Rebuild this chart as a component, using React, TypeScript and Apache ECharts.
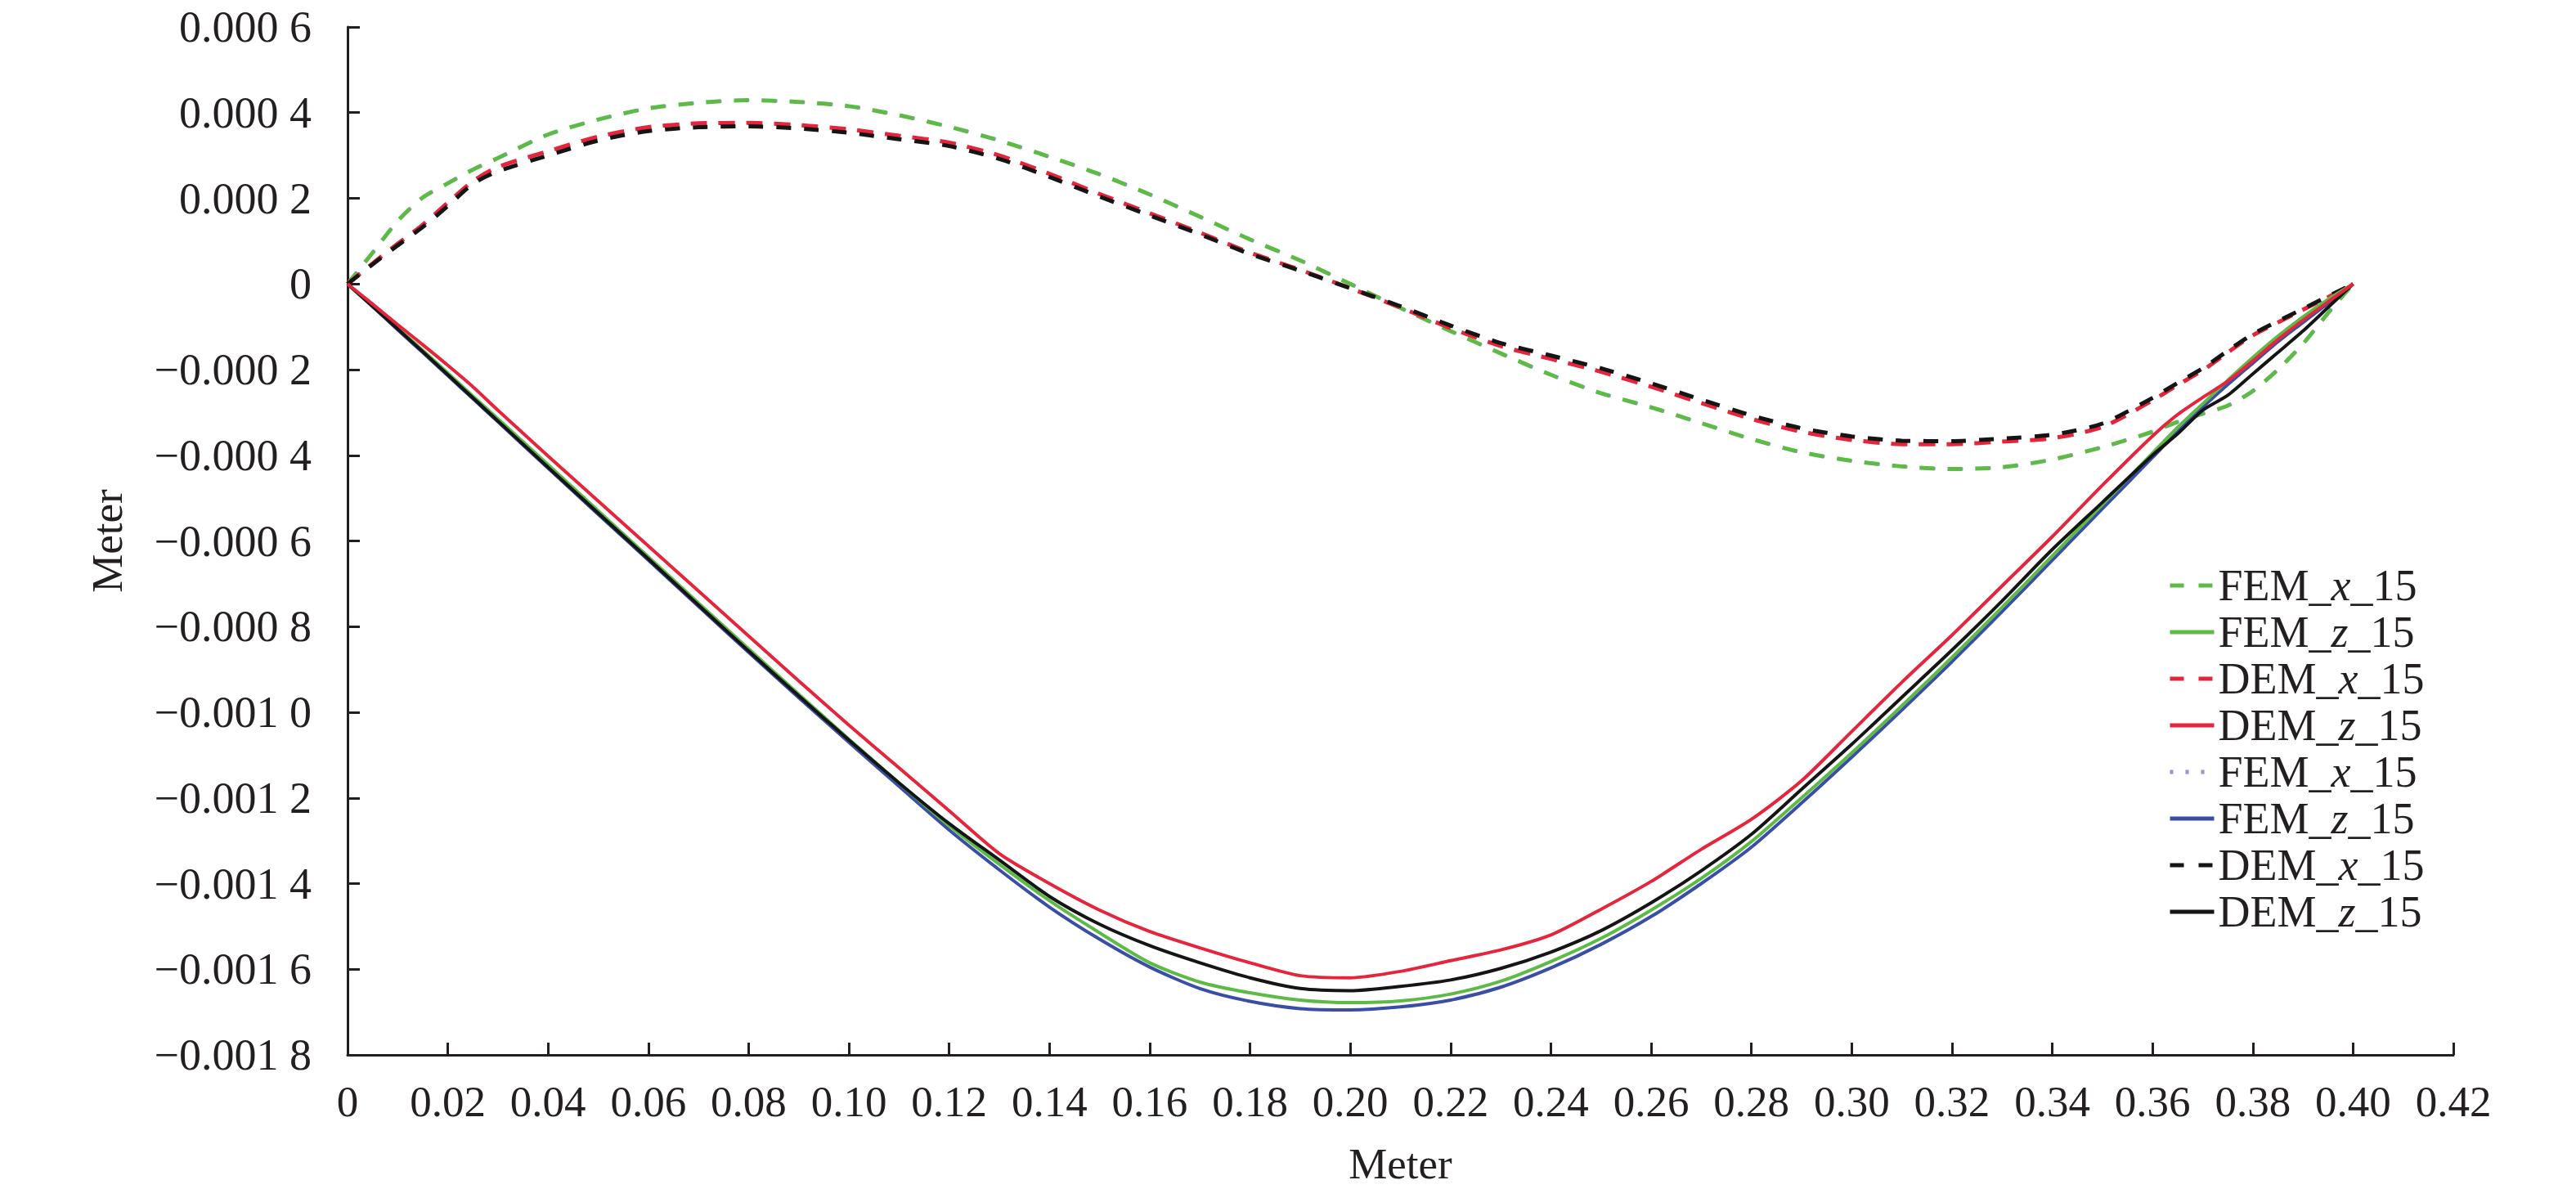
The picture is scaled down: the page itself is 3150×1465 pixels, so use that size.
import React, { useEffect, useRef } from "react";
import * as echarts from "echarts";

const FONT = "'Liberation Serif', 'Times New Roman', serif";
const INK = "#231f20";

// x positions (Meter)
const xs = [
  0, 0.005, 0.01, 0.015, 0.02, 0.025, 0.03,
  0.04, 0.05, 0.06, 0.07, 0.08, 0.09, 0.10, 0.11, 0.12, 0.13, 0.14, 0.15, 0.16, 0.17, 0.18, 0.19,
  0.20, 0.21, 0.22, 0.23, 0.24, 0.25, 0.26, 0.27, 0.28, 0.29, 0.30, 0.31, 0.32, 0.33, 0.34, 0.35, 0.36,
  0.365, 0.37, 0.375, 0.38, 0.385, 0.39, 0.395, 0.40,
];

// FEM_x_15 (green dashed)
const femX = [
  0, 0.73e-4, 1.47e-4, 2.02e-4, 2.35e-4, 2.67e-4, 2.94e-4,
  3.49e-4, 3.84e-4, 4.10e-4, 4.23e-4, 4.29e-4, 4.25e-4, 4.15e-4, 3.94e-4, 3.67e-4, 3.35e-4, 2.97e-4, 2.56e-4, 2.09e-4, 1.57e-4, 1.04e-4, 0.55e-4,
  0.0, -0.56e-4, -1.10e-4, -1.62e-4, -2.12e-4, -2.55e-4, -2.88e-4, -3.25e-4, -3.62e-4, -3.93e-4, -4.13e-4, -4.26e-4, -4.32e-4, -4.28e-4, -4.10e-4, -3.81e-4, -3.45e-4,
  -3.22e-4, -3.03e-4, -2.84e-4, -2.50e-4, -2.00e-4, -1.40e-4, -0.68e-4, 0,
];

// FEM_z_15 (green solid)
const femZ = [
  0, -0.51e-4, -1.03e-4, -1.55e-4, -2.08e-4, -2.62e-4, -3.15e-4,
  -4.22e-4, -5.30e-4, -6.37e-4, -7.45e-4, -8.52e-4, -9.58e-4, -10.63e-4, -11.65e-4, -12.65e-4, -13.55e-4, -14.40e-4, -15.15e-4, -15.85e-4, -16.30e-4, -16.55e-4, -16.72e-4,
  -16.78e-4, -16.74e-4, -16.58e-4, -16.28e-4, -15.82e-4, -15.28e-4, -14.62e-4, -13.88e-4, -13.02e-4, -12.00e-4, -10.95e-4, -9.85e-4, -8.72e-4, -7.55e-4, -6.35e-4, -5.15e-4, -3.95e-4,
  -3.35e-4, -2.80e-4, -2.25e-4, -1.72e-4, -1.22e-4, -0.77e-4, -0.36e-4, 0,
];

// DEM_x_15 (red dashed)
const demX = [
  0, 0.48e-4, 0.94e-4, 1.38e-4, 1.90e-4, 2.40e-4, 2.73e-4,
  3.10e-4, 3.44e-4, 3.66e-4, 3.75e-4, 3.76e-4, 3.71e-4, 3.61e-4, 3.46e-4, 3.30e-4, 3.00e-4, 2.57e-4, 2.10e-4, 1.65e-4, 1.20e-4, 0.73e-4, 0.33e-4,
  -0.10e-4, -0.55e-4, -1.03e-4, -1.45e-4, -1.75e-4, -2.05e-4, -2.40e-4, -2.78e-4, -3.15e-4, -3.45e-4, -3.64e-4, -3.74e-4, -3.74e-4, -3.68e-4, -3.60e-4, -3.34e-4, -2.72e-4,
  -2.36e-4, -2.02e-4, -1.60e-4, -1.20e-4, -0.90e-4, -0.60e-4, -0.31e-4, 0,
];

// DEM_z_15 (red solid)
const demZ = [
  0, -0.47e-4, -0.95e-4, -1.42e-4, -1.90e-4, -2.40e-4, -2.95e-4,
  -4.02e-4, -5.07e-4, -6.12e-4, -7.17e-4, -8.22e-4, -9.27e-4, -10.30e-4, -11.30e-4, -12.30e-4, -13.30e-4, -14.00e-4, -14.62e-4, -15.12e-4, -15.50e-4, -15.85e-4, -16.15e-4,
  -16.20e-4, -16.05e-4, -15.80e-4, -15.55e-4, -15.20e-4, -14.60e-4, -13.95e-4, -13.20e-4, -12.50e-4, -11.60e-4, -10.45e-4, -9.30e-4, -8.20e-4, -7.05e-4, -5.90e-4, -4.70e-4, -3.55e-4,
  -3.05e-4, -2.65e-4, -2.27e-4, -1.80e-4, -1.30e-4, -0.85e-4, -0.42e-4, 0,
];

// FEM_x_15 (blue dotted, lies under the green dashed curve)
const femX2 = [
  0, 0.73e-4, 1.47e-4, 2.02e-4, 2.35e-4, 2.67e-4, 2.94e-4,
  3.49e-4, 3.84e-4, 4.10e-4, 4.23e-4, 4.29e-4, 4.25e-4, 4.15e-4, 3.94e-4, 3.67e-4, 3.35e-4, 2.97e-4, 2.56e-4, 2.09e-4, 1.57e-4, 1.04e-4, 0.55e-4,
  0.0, -0.56e-4, -1.10e-4, -1.62e-4, -2.12e-4, -2.55e-4, -2.88e-4, -3.25e-4, -3.62e-4, -3.93e-4, -4.13e-4, -4.26e-4, -4.32e-4, -4.28e-4, -4.10e-4, -3.81e-4, -3.45e-4,
  -3.22e-4, -3.03e-4, -2.84e-4, -2.50e-4, -2.00e-4, -1.40e-4, -0.68e-4, 0,
];

// FEM_z_15 (blue solid)
const femZ2 = [
  0, -0.53e-4, -1.07e-4, -1.60e-4, -2.14e-4, -2.68e-4, -3.22e-4,
  -4.30e-4, -5.38e-4, -6.45e-4, -7.53e-4, -8.60e-4, -9.66e-4, -10.70e-4, -11.73e-4, -12.75e-4, -13.68e-4, -14.55e-4, -15.30e-4, -15.95e-4, -16.45e-4, -16.75e-4, -16.92e-4,
  -16.95e-4, -16.88e-4, -16.72e-4, -16.42e-4, -15.97e-4, -15.42e-4, -14.77e-4, -14.00e-4, -13.15e-4, -12.12e-4, -11.05e-4, -9.95e-4, -8.82e-4, -7.65e-4, -6.45e-4, -5.25e-4, -4.05e-4,
  -3.45e-4, -2.88e-4, -2.35e-4, -1.85e-4, -1.35e-4, -0.90e-4, -0.45e-4, 0,
];

// DEM_x_15 (black dashed)
const demX2 = [
  0, 0.46e-4, 0.90e-4, 1.33e-4, 1.82e-4, 2.34e-4, 2.63e-4,
  3.00e-4, 3.35e-4, 3.57e-4, 3.66e-4, 3.68e-4, 3.63e-4, 3.53e-4, 3.38e-4, 3.22e-4, 2.92e-4, 2.50e-4, 2.04e-4, 1.60e-4, 1.16e-4, 0.70e-4, 0.31e-4,
  -0.10e-4, -0.52e-4, -0.97e-4, -1.38e-4, -1.67e-4, -1.97e-4, -2.32e-4, -2.70e-4, -3.07e-4, -3.37e-4, -3.56e-4, -3.66e-4, -3.67e-4, -3.61e-4, -3.52e-4, -3.26e-4, -2.66e-4,
  -2.31e-4, -1.97e-4, -1.56e-4, -1.17e-4, -0.87e-4, -0.58e-4, -0.29e-4, 0,
];

// DEM_z_15 (black solid)
const demZ2 = [
  0, -0.52e-4, -1.05e-4, -1.58e-4, -2.12e-4, -2.66e-4, -3.20e-4,
  -4.28e-4, -5.35e-4, -6.42e-4, -7.50e-4, -8.57e-4, -9.62e-4, -10.65e-4, -11.65e-4, -12.60e-4, -13.45e-4, -14.30e-4, -14.95e-4, -15.45e-4, -15.85e-4, -16.20e-4, -16.45e-4,
  -16.50e-4, -16.40e-4, -16.25e-4, -15.98e-4, -15.60e-4, -15.10e-4, -14.45e-4, -13.70e-4, -12.85e-4, -11.80e-4, -10.75e-4, -9.65e-4, -8.55e-4, -7.40e-4, -6.20e-4, -5.10e-4, -4.00e-4,
  -3.50e-4, -2.95e-4, -2.60e-4, -2.10e-4, -1.60e-4, -1.10e-4, -0.55e-4, 0,
];

// legend entries (series names; trailing space keeps the repeated labels distinct)
const legendNames = [
  "FEM_x_15", "FEM_z_15", "DEM_x_15", "DEM_z_15",
  "FEM_x_15 ", "FEM_z_15 ", "DEM_x_15 ", "DEM_z_15 ",
];

const xTitle = "Meter";
const yTitle = "Meter";

const GREEN = "#5dba47";
const RED = "#e6243b";
const BLUE = "#3a4ea6";
const LIGHTBLUE = "#8e96d2";
const BLACK = "#151515";

function pairs(ys: number[]) {
  return xs.map((x, i) => [x, ys[i]]);
}

function fmtY(v: number) {
  const r = Math.round(v * 1e4);
  if (r === 0) return "0";
  const s = (Math.abs(r) / 1e4).toFixed(4);
  return (r < 0 ? "\u2212" : "") + s.slice(0, 5) + " " + s.slice(5);
}

function fmtX(v: number) {
  const r = Math.round(v * 100);
  if (r === 0) return "0";
  return (r / 100).toFixed(2);
}

export default function App() {
  const ref = useRef<HTMLDivElement>(null);

  useEffect(() => {
    if (!ref.current) return;
    const chart = echarts.init(ref.current, undefined, { renderer: "svg" });

    const mk = (
      name: string,
      data: number[],
      color: string,
      type: any,
      width: number,
      z: number,
      dashOffset = 0
    ) => ({
      name,
      type: "line",
      data: pairs(data),
      symbol: "none",
      showSymbol: false,
      smooth: 0.25,
      z,
      itemStyle: { color },
      lineStyle: { color, width, type, dashOffset },
      emphasis: { disabled: true },
    });

    const series = [
      mk(legendNames[4], femX2, LIGHTBLUE, [4, 30], 4, 2, 19),
      mk(legendNames[0], femX, GREEN, [18, 16], 5, 3),
      mk(legendNames[2], demX, RED, [20, 14], 5, 3),
      mk(legendNames[6], demX2, BLACK, [18, 16], 5, 4),
      mk(legendNames[5], femZ2, BLUE, "solid", 4, 3),
      mk(legendNames[1], femZ, GREEN, "solid", 4, 4),
      mk(legendNames[7], demZ2, BLACK, "solid", 4, 5),
      mk(legendNames[3], demZ, RED, "solid", 4, 6),
    ];

    const axisCommon = {
      axisLine: { show: true, onZero: false, lineStyle: { color: INK, width: 3 } },
      axisTick: { show: true, inside: true, length: 15, lineStyle: { color: INK, width: 3 } },
      splitLine: { show: false },
      nameLocation: "middle" as const,
      nameTextStyle: { fontFamily: FONT, fontSize: 53, color: INK },
    };

    const dashedLegend = [0, 2, 6];
    const legendData = legendNames.map((n, i) => {
      if (i === 4) return { name: n, lineStyle: { type: [4, 15], dashOffset: 0 } };
      if (dashedLegend.includes(i)) return { name: n, lineStyle: { type: [17, 18], dashOffset: 0 } };
      return { name: n };
    });

    chart.setOption({
      animation: false,
      backgroundColor: "#ffffff",
      textStyle: { fontFamily: FONT },
      grid: { left: 425, right: 150, top: 33, bottom: 175, containLabel: false },
      xAxis: {
        type: "value",
        min: 0,
        max: 0.42,
        interval: 0.02,
        ...axisCommon,
        name: xTitle,
        nameGap: 106,
        axisLabel: { formatter: fmtX, fontFamily: FONT, fontSize: 53, color: INK, margin: 30 },
      },
      yAxis: {
        type: "value",
        min: -0.0018,
        max: 0.0006,
        interval: 0.0002,
        ...axisCommon,
        name: yTitle,
        nameGap: 268,
        axisLabel: { formatter: fmtY, fontFamily: FONT, fontSize: 54, color: INK, margin: 44 },
      },
      legend: {
        show: true,
        orient: "vertical",
        left: 2646,
        top: 684,
        itemWidth: 54,
        itemHeight: 12,
        itemGap: 3,
        data: legendData,
        itemStyle: { opacity: 0 },
        lineStyle: { width: 5 },
        formatter: (name: string) => {
          const p = name.trim().split("_");
          return `{n|${p[0]}_}{i|${p[1]}}{n|_${p[2]}}`;
        },
        textStyle: {
          fontFamily: FONT,
          fontSize: 54,
          lineHeight: 52,
          color: INK,
          rich: {
            n: { fontFamily: FONT, fontSize: 54, lineHeight: 52, color: INK },
            i: { fontFamily: FONT, fontSize: 54, lineHeight: 52, color: INK, fontStyle: "italic" },
          },
        },
      },
      series,
    });

    return () => chart.dispose();
  }, []);

  return (
    <div
      ref={ref}
      style={{ position: "absolute", left: 0, top: 0, width: 3150, height: 1465, background: "#fff" }}
    />
  );
}
